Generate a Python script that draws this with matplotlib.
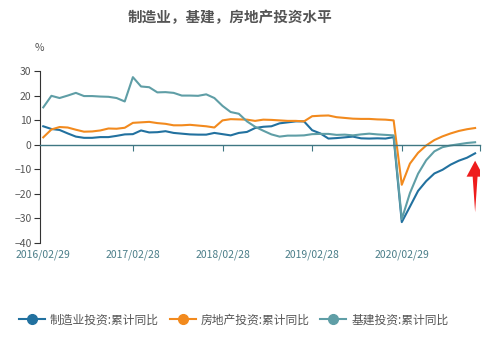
import matplotlib
matplotlib.use("Agg")
import matplotlib.pyplot as plt
from matplotlib.lines import Line2D
from matplotlib.patches import Polygon
import numpy as np
import pandas as pd

plt.rcParams['font.family'] = ['Noto Sans CJK SC', 'DejaVu Sans']

# 月度数据 (没有1月，1-2月合并)
fechas = [d for d in pd.date_range('2016-02-01', '2020-11-30', freq='ME') if d.month != 1]
etiquetas = [d.strftime('%Y/%m/%d') for d in fechas]

zhizao = [7.5, 6.4, 6.0, 4.6, 3.3, 2.8, 2.8, 3.1, 3.1, 3.6, 4.2,
          4.3, 5.8, 5.0, 5.1, 5.5, 4.8, 4.5, 4.2, 4.1, 4.1, 4.8,
          4.3, 3.8, 4.8, 5.2, 6.8, 7.3, 7.5, 8.7, 9.1, 9.5, 9.5,
          5.9, 4.6, 2.5, 2.7, 3.0, 3.3, 2.6, 2.5, 2.6, 2.5, 3.1,
          -31.5, -25.2, -18.8, -14.8, -11.7, -10.2, -8.1, -6.5, -5.3, -3.5]
fangdichan = [3.0, 6.2, 7.2, 7.0, 6.1, 5.3, 5.4, 5.8, 6.6, 6.5, 6.9,
              8.9, 9.1, 9.3, 8.8, 8.5, 7.9, 7.9, 8.1, 7.8, 7.5, 7.0,
              9.9, 10.4, 10.3, 10.2, 9.7, 10.2, 10.1, 9.9, 9.7, 9.7, 9.5,
              11.6, 11.8, 11.9, 11.2, 10.9, 10.6, 10.5, 10.5, 10.3, 10.2, 9.9,
              -16.3, -7.7, -3.3, -0.3, 1.9, 3.4, 4.6, 5.6, 6.3, 6.8]
jijian = [15.2, 19.9, 19.0, 20.0, 21.1, 19.8, 19.8, 19.6, 19.5, 19.0, 17.6,
          27.5, 23.7, 23.4, 21.3, 21.4, 21.1, 20.0, 20.0, 19.9, 20.5, 19.0,
          15.8, 13.3, 12.6, 9.5, 7.3, 5.7, 4.2, 3.3, 3.7, 3.7, 3.8,
          4.3, 4.4, 4.4, 4.0, 4.1, 3.8, 4.2, 4.5, 4.2, 4.0, 3.8,
          -30.3, -19.7, -11.8, -6.3, -2.7, -1.0, -0.3, 0.2, 0.7, 1.0]

nombres = ['制造业投资:累计同比', '房地产投资:累计同比', '基建投资:累计同比']
colores = ['#22719f', '#f28a1e', '#5f9ea6']

fig = plt.figure(figsize=(5.01, 3.38), dpi=100)
ax = fig.add_axes([40/501, 95/338, 440/501, 172/338])

x = np.arange(len(etiquetas))
for serie, col in zip([zhizao, fangdichan, jijian], colores):
    ax.plot(x, serie, color=col, lw=1.5, solid_joinstyle='round')

ax.set_ylim(-40, 30)
ax.set_xlim(-0.4, len(x) - 0.4)
ax.set_yticks(np.arange(-40, 31, 10))
ax.tick_params(axis='y', direction='out', length=4, width=0.8, colors='#333333',
               labelcolor='#555555', labelsize=7.5, pad=2)

# eje x en el cero, etiquetas abajo
ax.spines['top'].set_visible(False)
ax.spines['right'].set_visible(False)
ax.spines['left'].set_color('#333333')
ax.spines['left'].set_linewidth(0.8)
ax.spines['bottom'].set_position(('data', 0))
ax.spines['bottom'].set_color('#3f7783')
ax.spines['bottom'].set_linewidth(1.0)
posiciones = list(range(0, len(x), 11))
ax.set_xticks(posiciones[1:] + [len(x) - 0.4])
ax.tick_params(axis='x', direction='out', length=4, width=0.8, colors='#3f7783',
               labelbottom=False)

sec = ax.secondary_xaxis('bottom')
sec.set_xticks(posiciones, [etiquetas[i] for i in posiciones])
sec.tick_params(length=0, labelsize=7.5, labelcolor='#4a7d88', pad=5)
sec.spines['bottom'].set_visible(False)

fig.text(230/501, 1 - 17/338, '制造业，基建，房地产投资水平', ha='center', va='center',
         fontsize=10.5, fontweight='bold', color='#555555')
fig.text(39/501, 1 - 48/338, '%', ha='center', va='center', fontsize=7.5, color='#555555')

# flecha roja
fx = len(x) - 1
flecha = Polygon([(fx, -6.5), (fx + 1.05, -13.0), (fx + 0.3, -13.0), (fx, -27.5),
                  (fx - 0.3, -13.0), (fx - 1.05, -13.0)], closed=True,
                 facecolor='#ee1c1c', edgecolor='none', zorder=5)
ax.add_patch(flecha)

handles = [Line2D([0], [0], color=c, lw=1.5, marker='o', markersize=7,
                  markerfacecolor=c, markeredgecolor=c) for c in colores]
fig.legend(handles, nombres, loc='center left', bbox_to_anchor=(8/501, 18/338),
           ncol=3, frameon=False, fontsize=8.5, handlelength=2.2, handletextpad=0.45,
           columnspacing=0.9, labelcolor='#555555')

fig.savefig('out.png', dpi=100)
